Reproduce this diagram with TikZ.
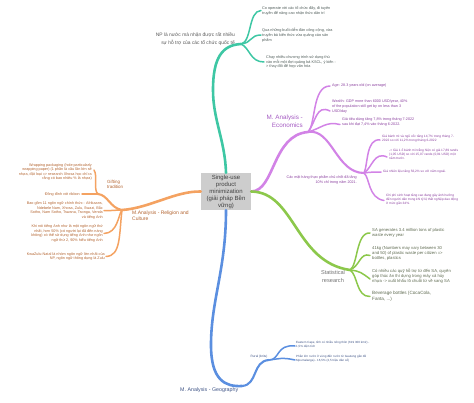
\documentclass[tikz,border=0pt]{standalone}
\usepackage{fontspec}
\setmainfont{Liberation Sans}
\definecolor{tealc}{HTML}{3EC7A4}
\definecolor{tealt}{HTML}{4F5C59}
\definecolor{purc}{HTML}{D283E6}
\definecolor{purt}{HTML}{8A3F9E}
\definecolor{purl}{HTML}{A45AC2}
\definecolor{grnc}{HTML}{8CC84B}
\definecolor{grnt}{HTML}{5E6A50}
\definecolor{orac}{HTML}{F4A261}
\definecolor{orat}{HTML}{B2632F}
\definecolor{bluc}{HTML}{5B8FE0}
\definecolor{blut}{HTML}{3E5385}
\definecolor{cfill}{HTML}{CDCDCD}
\begin{document}
\begin{tikzpicture}[x=1pt,y=-1pt,
  trunk/.style={line width=2.6pt,line cap=round},
  midline/.style={line width=2.1pt,line cap=round},
  twig/.style={line width=1.5pt,line cap=round},
  lbl/.style={inner sep=0pt},
  cnode/.style={fill=cfill,text=black!75,inner sep=1pt,minimum width=50pt,minimum height=37pt,align=center,font=\fontsize{6}{7}\selectfont},
  tleaf/.style={lbl,anchor=west,align=left,text=tealt,font=\fontsize{3.8}{4.9}\selectfont},
  pleaf/.style={lbl,anchor=west,align=left,text=purt,font=\fontsize{3.7}{5}\selectfont},
  psmall/.style={lbl,anchor=west,align=left,text=purt,font=\fontsize{3.2}{4}\selectfont},
  gleaf/.style={lbl,anchor=west,align=left,text=grnt,font=\fontsize{4.2}{4.8}\selectfont},
  oleaf/.style={lbl,anchor=east,align=right,text=orat,font=\fontsize{3.75}{4.5}\selectfont},
  bleaf/.style={lbl,anchor=west,align=left,text=blut,font=\fontsize{3}{4}\selectfont}]
\useasboundingbox (0,0) rectangle (474,402);

% centre
\node[cnode] (c) at (226,191.5) {Single-use\\product\\minimization\\(giải pháp Bền\\vững)};

% ---------- teal ----------
\coordinate (tj) at (241,44);
\node[lbl,anchor=east,align=right,text=black!65,font=\fontsize{4.9}{7.5}\selectfont] (np) at (235,39) {NP là nước mà nhận được rất nhiều\\sự hỗ trợ của các tổ chức quốc tế};
\node[tleaf] (t1) at (262,10.5) {Co operate với các tổ chức đấy, đi tuyên\\truyền để nâng cao nhận thức dân trí};
\node[tleaf] (t2) at (262,35) {Qua những buổi diễn đàn công cộng, vừa\\truyền bá kiến thức vừa quảng cáo sản\\phẩm};
\node[tleaf] (t3) at (266,62) {Chạy nhiều chương trình sử dụng thú\\vào mỗi một đợt quảng bá KSCL, ý kiến -\\> thay đổi để hợp văn hóa};
\draw[tealc,trunk] (c.north) .. controls (225,140) and (213,120) .. (213,90) .. controls (213,58) and (222,45) .. (tj);
\draw[tealc,twig] (tj) .. controls (252,42) and (248,11) .. ([xshift=-1pt]t1.west);
\draw[tealc,twig] (tj) .. controls (252,43) and (250,35) .. ([xshift=-1pt]t2.west);
\draw[tealc,twig] (tj) .. controls (250,48) and (250,62) .. ([xshift=-2pt]t3.west);

% ---------- purple ----------
\coordinate (ej) at (308,132);
\coordinate (ej2) at (364,173);
\node[lbl,anchor=east,align=right,text=purl,font=\fontsize{6.3}{8}\selectfont] (eco) at (303,121) {M. Analysis -\\Economics};
\node[pleaf] (p1) at (332,86) {Age: 28.3 years old (on average)};
\node[pleaf] (p2) at (332,107) {Wealth: GDP more than 6000 USD/year, 40\%\\of the population still get by on less than 3\\USD/day};
\node[pleaf] (p3) at (342,122.5) {Giá tiêu dùng tăng 7,8\% trong tháng 7-2022\\sau khi đạt 7,4\% vào tháng 6-2022.};
\node[lbl,anchor=east,align=right,text=purt,font=\fontsize{3.7}{4.8}\selectfont] (food) at (357,179.5) {Các mặt hàng thực phẩm chủ chốt đã tăng\\10\% chỉ trong năm 2021.};
\node[psmall] (e1) at (382,139) {Giá bánh mì và ngũ cốc tăng 14,7\% trong tháng 7-\\2022 so với 11,2\% trong tháng 6-2022};
\node[psmall] (e2) at (389,154) {-> Giá 1 ổ bánh mì trắng hiện có giá 17,89 rands\\(1,05 USD) so với 15,07 rands (0,91 USD) một\\năm trước.};
\node[psmall] (e3) at (383,172) {Giá nhiên liệu tăng 56,2\% so với năm ngoái.};
\node[psmall] (e4) at (386,199.5) {Chi phí sinh hoạt tăng cao đang gây ảnh hưởng\\đến người dân trong khi tỷ lệ thất nghiệp dao động\\ở mức gần 34\%.};
\draw[purc,trunk] (c.east) .. controls (275,191) and (272,135) .. (ej);
\draw[purc,twig] (ej) .. controls (316,124) and (312,86) .. ([xshift=-2pt]p1.west);
\draw[purc,twig] (ej) .. controls (316,122) and (316,104) .. ([xshift=-2pt,yshift=-4pt]p2.west);
\draw[purc,twig] (ej) .. controls (322,128) and (326,121) .. ([xshift=-2pt,yshift=-2pt]p3.west);
\draw[purc,midline] (ej) .. controls (332,128) and (336,173) .. (ej2);
\draw[purc,twig] (ej2) .. controls (368,165) and (366,138) .. ([xshift=-2pt,yshift=-1pt]e1.west);
\draw[purc,twig] (ej2) .. controls (372,168) and (374,151) .. ([xshift=-2pt,yshift=-3pt]e2.west);
\draw[purc,twig] (ej2) .. controls (370,172) and (376,172) .. ([xshift=-2pt]e3.west);
\draw[purc,twig] (ej2) .. controls (370,178) and (368,198) .. ([xshift=-2pt,yshift=-1pt]e4.west);

% ---------- green ----------
\coordinate (gj) at (350,270);
\node[lbl,align=center,text=black!55,font=\fontsize{5.6}{7.5}\selectfont] (stat) at (333,276.5) {Statistical\\research};
\node[gleaf] (g1) at (372,233) {SA generates 3.4 million tons of plastic\\waste every year};
\node[gleaf] (g2) at (372,253.5) {41kg (Numbers may vary between 30\\and 50) of plastic waste per citizen =>\\bottles, plastics};
\node[gleaf] (g3) at (372,276) {Có nhiều các quỹ hỗ trợ từ đến SA, quyên\\góp thúc ăn thì dựng trong máy xả hủy\\nhựa -> xuất khẩu lô chuỗi từ về sang SA};
\node[lbl,anchor=west,align=left,text=grnt,font=\fontsize{4.6}{5.4}\selectfont] (g4) at (372,296.5) {Beverage bottles (CocaCola,\\Fanta, ...)};
\draw[grnc,trunk] (c.east) .. controls (295,192) and (295,262) .. (gj);
\draw[grnc,twig] (gj) .. controls (358,265) and (356,232) .. ([xshift=-2pt]g1.west);
\draw[grnc,twig] (gj) .. controls (360,266) and (360,252) .. ([xshift=-2pt,yshift=-2pt]g2.west);
\draw[grnc,twig] (gj) .. controls (360,271) and (362,273) .. ([xshift=-2pt,yshift=-3pt]g3.west);
\draw[grnc,twig] (gj) .. controls (358,275) and (356,297) .. ([xshift=-2pt]g4.west);

% ---------- blue ----------
\coordinate (bj) at (242,386);
\coordinate (brj) at (269,360);
\node[lbl,anchor=west,text=blut,font=\fontsize{5.3}{6}\selectfont] (geo) at (180,390.5) {M. Analysis - Geography};
\node[lbl,text=blut,font=\fontsize{3.2}{4}\selectfont] (rural) at (259,357) {Rural (brits)};
\node[bleaf] (b1) at (296,345) {Eastern Cape, tỉnh có nhiều nông thôn (619 300 km2) -\\1,5\% diện tích};
\node[bleaf] (b2) at (296,359) {Phần lớn nước ở vùng đến nước từ Gauteng gần đề\\Mpumalanga) - 16,5\% (2,5 triệu dân số)};
\draw[bluc,trunk] (c.south) .. controls (226,270) and (211,300) .. (211,345) .. controls (211,380) and (225,387) .. (bj);
\draw[bluc,midline] (bj) .. controls (258,385) and (252,361) .. (brj);
\draw[bluc,twig] (brj) .. controls (280,360) and (276,344) .. ([xshift=-1pt,yshift=-1pt]b1.west);
\draw[bluc,twig] (brj) .. controls (278,359) and (282,357) .. ([xshift=-1pt,yshift=-1pt]b2.west);

% ---------- orange ----------
\coordinate (oj) at (122,210);
\coordinate (ogj) at (98,194);
\node[lbl,anchor=west,align=left,text=orat,font=\fontsize{5}{5.5}\selectfont] (rel) at (132,215.5) {M.Analysis - Religion and\\Culture};
\node[lbl,anchor=west,align=left,text=orat,font=\fontsize{4.5}{5}\selectfont] (gift) at (107,184.5) {Gifting\\tradition};
\node[oleaf] (o1) at (92,172) {Wrapping packaging (hole particularly\\wrapping paper) (1 phần là cầu lần lớn sẽ\\nhựa, đặt loại => research Xhosa học chỉ ra\\rằng có bao nhiêu \% là nhựa)};
\node[oleaf] (o2) at (80,194) {Đồng đính với ribbon};
\node[oleaf] (o3) at (103,210.5) {Bao gồm 11 ngôn ngữ chính thức : Afrikaans,\\Ndebele Nam, Xhosa, Zulu, Swazi, Bắc\\Sotho, Nam Sotho, Tswana, Tsonga, Venda\\và tiếng Anh};
\node[oleaf] (o4) at (103,233.5) {Khi nói tiếng Anh như là một ngôn ngữ thứ\\nhất, hơn 50\% (có người lại đã đến nàng\\không) có thể sử dụng tiếng Anh như ngôn\\ngữ thứ 2, 90\% hiểu tiếng Anh};
\node[oleaf] (o5) at (105,256.5) {KwaZulu-Natal là nhóm ngôn ngữ lớn nhất của\\NP, ngôn ngữ thông dụng là Zulu};
\draw[orac,trunk] (c.west) .. controls (175,191) and (150,208) .. (oj);
\draw[orac,midline] (oj) .. controls (110,208) and (108,195) .. (ogj);
\draw[orac,twig] (ogj) .. controls (93,190) and (98,176) .. ([xshift=2pt,yshift=2pt]o1.east);
\draw[orac,twig] (ogj) .. controls (92,194) and (86,194) .. ([xshift=2pt]o2.east);
\draw[orac,twig] (oj) .. controls (115,210) and (110,211) .. ([xshift=1pt]o3.east);
\draw[orac,twig] (oj) .. controls (118,215) and (118,233) .. ([xshift=1pt]o4.east);
\draw[orac,twig] (oj) .. controls (119,235) and (121,256) .. ([xshift=1pt]o5.east);
\end{tikzpicture}
\end{document}
